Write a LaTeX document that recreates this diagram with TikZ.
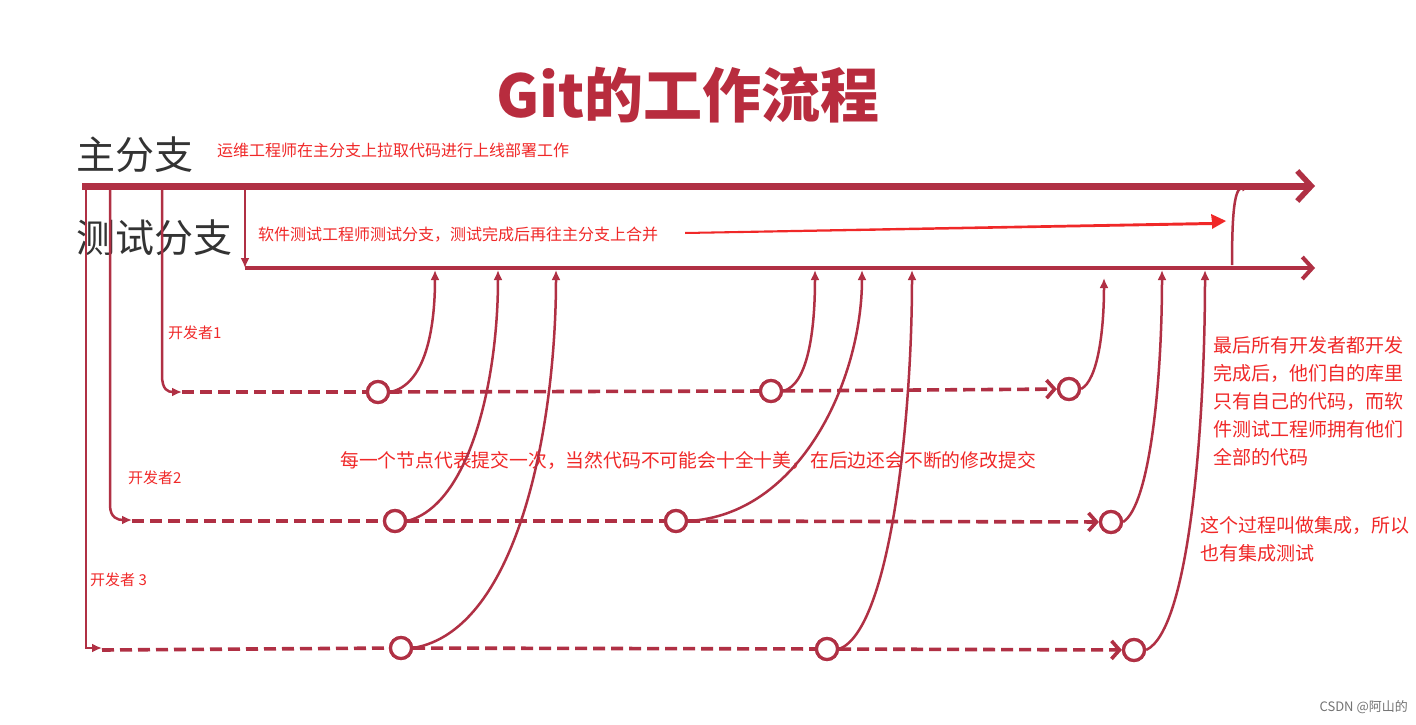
\documentclass[tikz,border=0pt]{standalone}
\usepackage{fontspec}
\newfontfamily\cjk{Noto Sans CJK SC}
\usetikzlibrary{arrows.meta}
\definecolor{br}{RGB}{176,48,68}
\definecolor{tt}{RGB}{184,44,62}
\definecolor{rt}{RGB}{240,40,40}
\tikzset{
 x=1pt,y=-1pt,
 big/.style={br,line width=7pt,-{Straight Barb[length=14pt,width=30pt,line width=5.5pt]}},
 mid/.style={br,line width=4pt,-{Straight Barb[length=10pt,width=22pt,line width=4pt]}},
 dev/.style={br,line width=3.6pt,dash pattern=on 12pt off 6pt},
 devend/.style={dev,-{Straight Barb[length=8pt,width=18pt,line width=3.6pt]}},
 feed/.style={br,line width=2.5pt,-{Latex[length=10pt,width=9pt]}},
 commit/.style={circle,draw=br,line width=3.2pt,fill=white,minimum size=21pt,inner sep=0pt},
 red/.style={text=rt,font=\cjk\fontsize{16}{19}\selectfont,inner sep=0pt,anchor=west},
 dlab/.style={text=rt,font=\cjk\fontsize{15}{18}\selectfont,inner sep=0pt,anchor=west},
}
\begin{document}
\begin{tikzpicture}
\useasboundingbox (0,0) rectangle (1416,725);
\fill[white] (0,0) rectangle (1416,725);
\node[text=tt,font=\cjk\bfseries\fontsize{59}{60}\selectfont] (title) at (688,95) {Git的工作流程};
\node[text=black!80,font=\cjk\fontsize{39}{42}\selectfont,anchor=west,inner sep=0pt] (mb) at (76,155) {主分支};
\node[text=black!80,font=\cjk\fontsize{39}{42}\selectfont,anchor=west,inner sep=0pt] (tb) at (76,238) {测试分支};
\node[red] (t1) at (217,150) {运维工程师在主分支上拉取代码进行上线部署工作};
\node[red] (t2) at (258,235) {软件测试工程师测试分支，测试完成后再往主分支上合并};
\node[text=rt,font=\cjk\fontsize{18.8}{24}\selectfont,inner sep=0pt,anchor=west] (t3) at (340,461) {每一个节点代表提交一次，当然代码不可能会十全十美，在后边还会不断的修改提交};
\node[text=rt,font=\cjk\fontsize{19}{28}\selectfont,inner sep=0pt,anchor=north west,align=left] (t4) at (1213,336) {最后所有开发者都开发\\完成后，他们自的库里\\只有自己的代码，而软\\件测试工程师拥有他们\\全部的代码};
\node[text=rt,font=\cjk\fontsize{19}{28}\selectfont,inner sep=0pt,anchor=north west,align=left] (t5) at (1200,516) {这个过程叫做集成，所以\\也有集成测试};
\node[dlab] (d1) at (168,333) {开发者1};
\node[dlab] (d2) at (128,478) {开发者2};
\node[dlab] (d3) at (90,580) {开发者 3};
\node[text=black!55,font=\cjk\fontsize{13}{15}\selectfont,anchor=east,inner sep=0pt] (wm) at (1408,707) {CSDN @阿山的};

\coordinate (ms) at (82,186); \coordinate (me) at (1315,186);
\coordinate (ts) at (245,268); \coordinate (te) at (1315,268);
\draw[big] (ms) -- (me);
\draw[mid] (ts) -- (te);
\draw[feed] (245,190) -- (ts);
\fill[rt] (685,232) -- (1212,222) -- (1211,214) -- (1226,221) -- (1212,229) -- (1212,225) -- (685,234) -- cycle;
\draw[feed] (1232,265) .. controls (1232,200) and (1236,188) .. (1252,186);

\draw[feed] (162,190) -- (162,375) .. controls (162,390) and (168,392) .. (182,392);
\draw[feed] (110,190) -- (110,505) .. controls (110,518) and (118,520) .. (132,520);
\draw[feed] (86,190) -- (86,648) -- (102,648);

\node[commit] (a1) at (378,392) {}; \node[commit] (a2) at (771,391) {}; \node[commit] (a3) at (1069,389) {};
\node[commit] (b1) at (395,521) {}; \node[commit] (b2) at (676,521) {}; \node[commit] (b3) at (1111,522) {};
\node[commit] (c1) at (401,648) {}; \node[commit] (c2) at (827,649) {}; \node[commit] (c3) at (1134,650) {};
\coordinate (a0) at (182,392); \coordinate (b0) at (132,521); \coordinate (c0) at (102,650);
\draw[dev] (a0) -- (a1); \draw[dev] (a1) -- (a2); \draw[devend] (a2) -- (a3);
\draw[dev] (b0) -- (b1); \draw[dev] (b1) -- (b2); \draw[devend] (b2) -- (b3);
\draw[dev] (c0) -- (c1); \draw[dev] (c1) -- (c2); \draw[devend] (c2) -- (c3);
\node[commit] at (a1) {}; \node[commit] at (a2) {}; \node[commit] at (a3) {};
\node[commit] at (b1) {}; \node[commit] at (b2) {}; \node[commit] at (b3) {};
\node[commit] at (c1) {}; \node[commit] at (c2) {}; \node[commit] at (c3) {};

\draw[feed] (a1.east) .. controls (425,385) and (435,330) .. (435,270);
\draw[feed] (a2.east) .. controls (808,385) and (815,330) .. (815,270);
\draw[feed] (a3.east) .. controls (1098,380) and (1104,330) .. (1104,278);
\draw[feed] (b1.east) .. controls (470,505) and (498,380) .. (498,270);
\draw[feed] (b2.east) .. controls (800,515) and (862,380) .. (862,270);
\draw[feed] (b3.east) .. controls (1150,505) and (1162,380) .. (1162,270);
\draw[feed] (c1.east) .. controls (520,630) and (556,420) .. (556,270);
\draw[feed] (c2.east) .. controls (890,630) and (912,420) .. (912,270);
\draw[feed] (c3.east) .. controls (1190,630) and (1205,420) .. (1205,270);
\end{tikzpicture}
\end{document}
